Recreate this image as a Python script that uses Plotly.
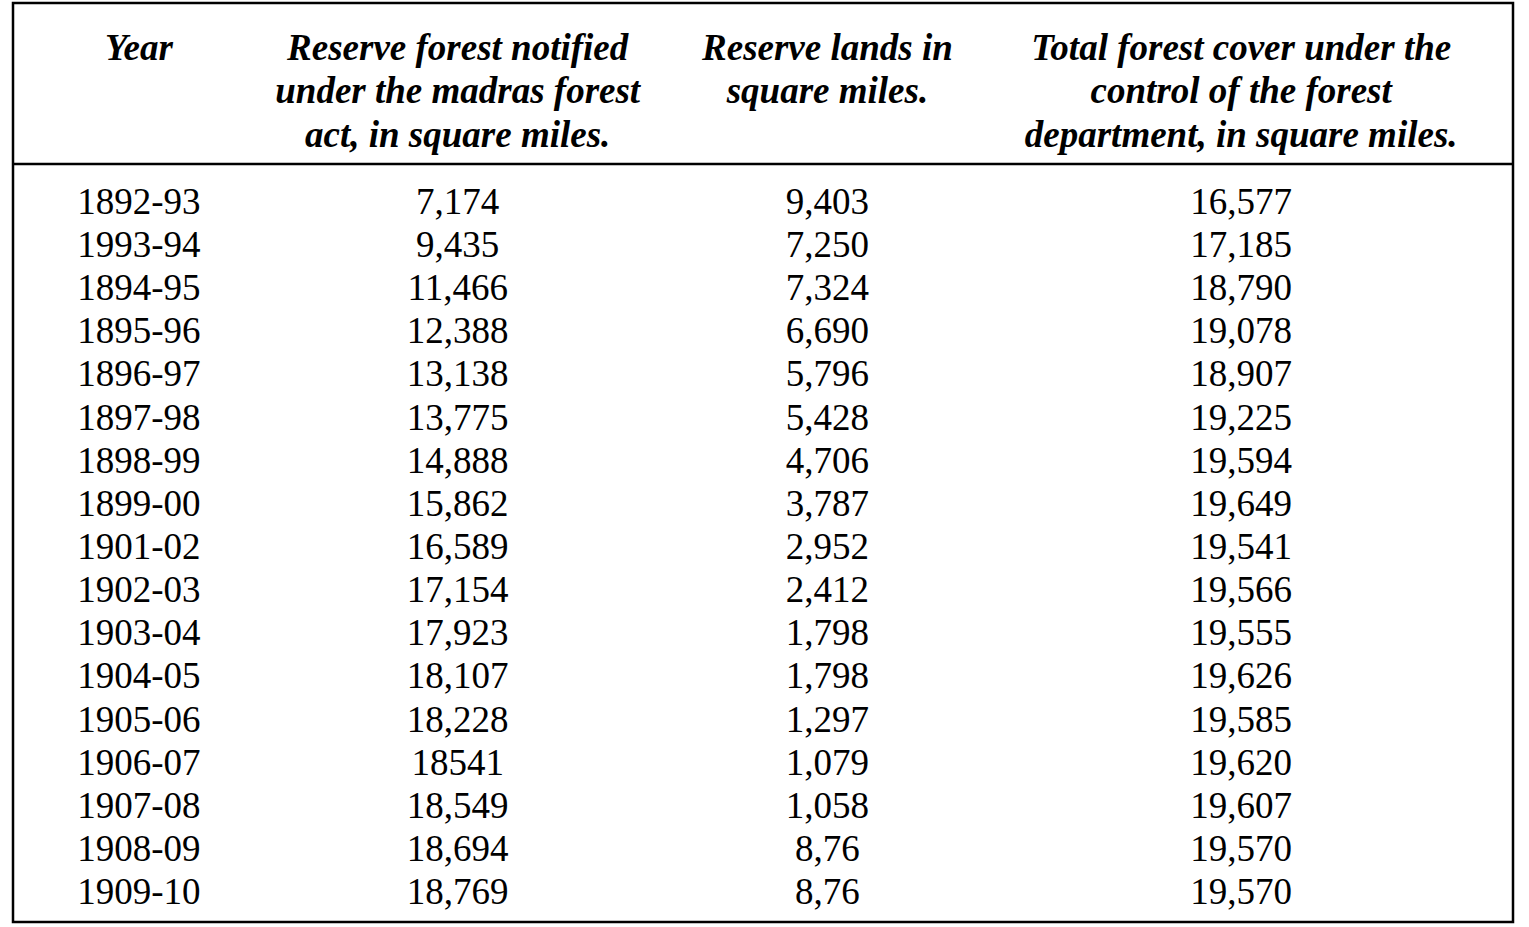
import plotly.graph_objects as go

# column headings, one list entry per printed line
year_head = ["Year", "", ""]
forest_head = ["Reserve forest notified", "under the madras forest", "act, in square miles."]
lands_head = ["Reserve lands in", "square miles.", ""]
total_head = ["Total forest cover under the", "control of the forest", "department, in square miles."]

years = ["1892-93", "1993-94", "1894-95", "1895-96", "1896-97", "1897-98", "1898-99",
         "1899-00", "1901-02", "1902-03", "1903-04", "1904-05", "1905-06", "1906-07",
         "1907-08", "1908-09", "1909-10"]

reserve_forest = ["7,174", "9,435", "11,466", "12,388", "13,138", "13,775", "14,888",
                  "15,862", "16,589", "17,154", "17,923", "18,107", "18,228", "18541",
                  "18,549", "18,694", "18,769"]

reserve_lands = ["9,403", "7,250", "7,324", "6,690", "5,796", "5,428", "4,706",
                 "3,787", "2,952", "2,412", "1,798", "1,798", "1,297", "1,079",
                 "1,058", "8,76", "8,76"]

total_cover = ["16,577", "17,185", "18,790", "19,078", "18,907", "19,225", "19,594",
               "19,649", "19,541", "19,566", "19,555", "19,626", "19,585", "19,620",
               "19,607", "19,570", "19,570"]

W, H = 1529, 927
FONT = "Liberation Serif"
col_w = [254, 384, 356, 472]
tbl_x = [12 / W, 1478 / W]
no_header = dict(values=[], height=0, fill_color="white", line=dict(width=0, color="white"))


def nb(lines):
    # no-break spaces so the table does not re-wrap the heading lines
    return [s.replace(" ", "\u00a0") for s in lines]


fig = go.Figure()

# heading block
fig.add_trace(go.Table(
    domain=dict(x=tbl_x, y=[1 - 160 / H, 1 - 8 / H]),
    columnwidth=col_w,
    header=no_header,
    cells=dict(
        values=[nb(year_head), nb(forest_head), nb(lands_head), nb(total_head)],
        height=43.5,
        align="center",
        font=dict(family=FONT, size=37, color="black", weight="bold", style="italic"),
        fill_color="white",
        line=dict(width=0, color="white"),
    ),
))

# body rows
fig.add_trace(go.Table(
    domain=dict(x=tbl_x, y=[1 - 926 / H, 1 - 162 / H]),
    columnwidth=col_w,
    header=no_header,
    cells=dict(
        values=[years, reserve_forest, reserve_lands, total_cover],
        height=43.15,
        align="center",
        font=dict(family=FONT, size=37, color="black"),
        fill_color="white",
        line=dict(width=0, color="white"),
    ),
))

# outer frame and the rule under the header
fig.add_shape(type="rect", xref="paper", yref="paper",
              x0=13 / W, x1=1513 / W, y0=1 - 922 / H, y1=1 - 3 / H,
              line=dict(color="black", width=2.5))
fig.add_shape(type="line", xref="paper", yref="paper",
              x0=13 / W, x1=1513 / W, y0=1 - 164 / H, y1=1 - 164 / H,
              line=dict(color="black", width=2.5))

fig.update_layout(
    width=W, height=H,
    margin=dict(l=0, r=0, t=0, b=0),
    paper_bgcolor="white",
    plot_bgcolor="white",
)

fig.write_html("out.html", config={"displayModeBar": False},
               post_script="document.body.style.margin='0px';")
